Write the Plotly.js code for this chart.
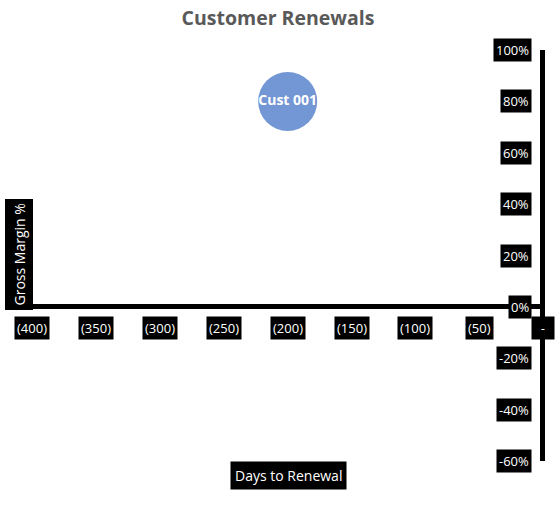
<!DOCTYPE html>
<html>
<head>
<meta charset="utf-8">
<script src="https://cdn.plot.ly/plotly-3.0.1.min.js"></script>
<style>
  html, body { margin: 0; padding: 0; background: #fff; }
  #chart { width: 556px; height: 507px; }
</style>
</head>
<body>
<div id="chart"></div>
<script>
// DATA
const customers = ['Cust 001'];
const daysToRenewal = [-200];
const grossMargin = [0.8];

const xTickValues = [-400, -350, -300, -250, -200, -150, -100, -50, 0];
const xTickLabels = ['(400)', '(350)', '(300)', '(250)', '(200)', '(150)', '(100)', '(50)', '-'];
const yTickValues = [1.0, 0.8, 0.6, 0.4, 0.2, 0, -0.2, -0.4, -0.6];
const yTickLabels = ['100%', '80%', '60%', '40%', '20%', '0%', '-20%', '-40%', '-60%'];

const FONT = 'Open Sans, Noto Sans, sans-serif';
const NBSP = '\u00a0';

// tick labels drawn as annotations so they can have the black boxes
let annotations = [];
for (let i = 0; i < xTickValues.length; i++) {
  // excel pads the zero dash with spaces
  let label = xTickLabels[i] === '-' ? NBSP + NBSP + '-' + NBSP + NBSP : xTickLabels[i];
  annotations.push({
    x: xTickValues[i], y: 0, xref: 'x', yref: 'y',
    text: label, showarrow: false,
    xanchor: 'center', yanchor: 'top', yshift: -9,
    bgcolor: '#000000', borderpad: 2,
    font: { family: FONT, size: 13, color: '#ffffff' }
  });
}
for (let i = 0; i < yTickValues.length; i++) {
  annotations.push({
    x: 0, y: yTickValues[i], xref: 'x', yref: 'y',
    text: yTickLabels[i], showarrow: false,
    xanchor: 'right', yanchor: 'middle', xshift: -11,
    bgcolor: '#000000', borderpad: 2,
    font: { family: FONT, size: 13, color: '#ffffff' }
  });
}

const W = 556, H = 507;
const margin = { l: 12, r: 11, t: 50, b: 46, pad: 0 };
const plotW = W - margin.l - margin.r;
const plotH = H - margin.t - margin.b;

// axis titles, positions given in pixels then turned into paper coords
annotations.push({
  x: (288 - margin.l) / plotW, y: (H - margin.b - 475) / plotH,
  xref: 'paper', yref: 'paper', xanchor: 'center', yanchor: 'middle',
  text: 'Days to Renewal', showarrow: false,
  bgcolor: '#000000', borderpad: 4,
  font: { family: FONT, size: 14, color: '#ffffff' }
});
annotations.push({
  x: (19.5 - margin.l) / plotW, y: (H - margin.b - 255) / plotH,
  xref: 'paper', yref: 'paper', xanchor: 'center', yanchor: 'middle',
  text: 'Gross Margin %', showarrow: false, textangle: -90,
  bgcolor: '#000000', borderpad: 4,
  font: { family: FONT, size: 14, color: '#ffffff' }
});

const trace = {
  x: daysToRenewal,
  y: grossMargin,
  text: customers,
  type: 'scatter',
  mode: 'markers+text',
  textposition: 'middle center',
  textfont: { family: FONT, size: 14, color: '#ffffff', weight: 'bold' },
  marker: { size: 59, color: '#7396d4', line: { width: 0 } },
  cliponaxis: false,
  hoverinfo: 'skip'
};

const layout = {
  width: W,
  height: H,
  margin: margin,
  paper_bgcolor: '#ffffff',
  plot_bgcolor: '#ffffff',
  showlegend: false,
  title: {
    text: 'Customer Renewals',
    x: 0.5, xanchor: 'center',
    y: 0.965, yanchor: 'middle',
    font: { family: FONT, size: 19.5, color: '#595959', weight: 'bold' }
  },
  xaxis: {
    range: [-416, 1.6],
    showgrid: false,
    showline: false,
    showticklabels: false,
    ticks: '',
    zeroline: true,
    zerolinecolor: '#000000',
    zerolinewidth: 5,
    fixedrange: true
  },
  yaxis: {
    range: [-0.6, 1.0],
    showgrid: false,
    showline: false,
    showticklabels: false,
    ticks: '',
    zeroline: true,
    zerolinecolor: '#000000',
    zerolinewidth: 5,
    fixedrange: true
  },
  annotations: annotations
};

Plotly.newPlot('chart', [trace], layout, { displayModeBar: false, staticPlot: true });
</script>
</body>
</html>
